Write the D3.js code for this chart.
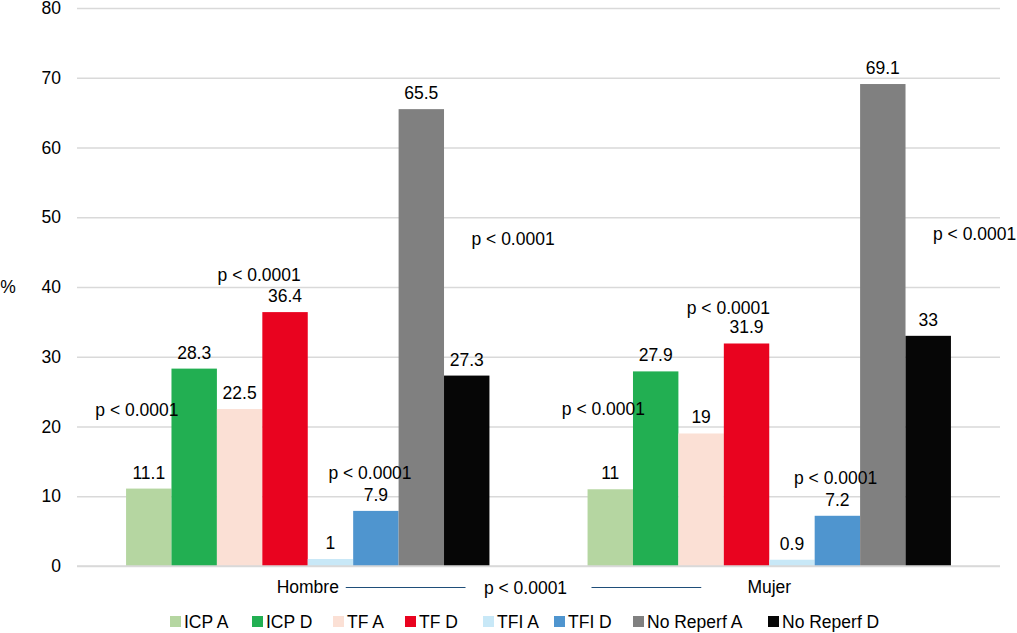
<!DOCTYPE html>
<html>
<head>
<meta charset="utf-8">
<script src="https://cdn.jsdelivr.net/npm/d3@7"></script>
<style>
  body { margin: 0; background: #fff; }
  text { font-family: "Liberation Sans", Arial, sans-serif; fill: #000; }
</style>
</head>
<body>
<div id="chartDiv"></div>
<script>
// Data
const categories = ['Hombre', 'Mujer'];
const seriesNames = ['ICP A', 'ICP D', 'TF A', 'TF D', 'TFI A', 'TFI D', 'No Reperf A', 'No Reperf D'];
const hombreValues = [11.1, 28.3, 22.5, 36.4, 1, 7.9, 65.5, 27.3];
const mujerValues = [11, 27.9, 19, 31.9, 0.9, 7.2, 69.1, 33];
const yTickValues = [0, 10, 20, 30, 40, 50, 60, 70, 80];
const seriesColors = ['#b5d6a1', '#22af52', '#fbe0d5', '#e9031f', '#c8e8f7', '#4f95cf', '#808080', '#060606'];

// p-value notes: category, slot (in bar widths from the group's first bar), level (%)
const noteText = 'p < 0.0001';
const noteCats = ['Hombre', 'Hombre', 'Hombre', 'Hombre', 'Mujer', 'Mujer', 'Mujer', 'Mujer'];
const noteSlots = [0.24, 2.93, 5.37, 8.52, 0.35, 3.1, 5.46, 8.52];
const noteLevels = [22.3, 41.7, 13.4, 46.9, 22.5, 37.0, 12.6, 47.6];

const vars = {
  width: 1017,
  height: 633,
  fontSize: '17.5px',
  margin: { left: 77, right: 17, top: 8, bottom: 67 }
};

const rows = categories.map((c, i) => ({
  cat: c,
  values: (i === 0 ? hombreValues : mujerValues).map((v, j) => ({ series: seriesNames[j], value: v, cat: c }))
}));

const svg = d3.select('#chartDiv').append('svg')
  .attr('width', vars.width)
  .attr('height', vars.height);

const innerW = vars.width - vars.margin.left - vars.margin.right;
const innerH = vars.height - vars.margin.top - vars.margin.bottom;

const gObj = svg.append('g')
  .attr('transform', `translate(${vars.margin.left},${vars.margin.top})`);

// Scales
const x0 = d3.scaleBand().domain(categories).range([0, innerW]).padding(0);
const x1 = d3.scaleBand().domain(seriesNames).range([0, x0.bandwidth()])
  .paddingInner(0).paddingOuter(1.08);
const yScale = d3.scaleLinear().domain([0, 80]).range([innerH, 0]);
const color = d3.scaleOrdinal().domain(seriesNames).range(seriesColors);

// Grid / y axis
const yAxis = d3.axisLeft(yScale)
  .tickValues(yTickValues)
  .tickSize(-innerW)
  .tickPadding(16);

const yAxisG = gObj.append('g').call(yAxis);
yAxisG.select('.domain').remove();
yAxisG.selectAll('.tick line').attr('stroke', '#d9d9d9').attr('stroke-width', 1.3);
yAxisG.selectAll('.tick text').style('font-size', vars.fontSize);

svg.append('text')
  .attr('x', 8).attr('y', vars.margin.top + yScale(40) + 6)
  .attr('text-anchor', 'middle')
  .style('font-size', vars.fontSize)
  .text('%');

// Bars
const groups = gObj.selectAll('.grp')
  .data(rows)
  .enter().append('g')
  .attr('class', 'grp')
  .attr('transform', d => `translate(${x0(d.cat)},0)`);

groups.selectAll('rect')
  .data(d => d.values)
  .enter().append('rect')
  .attr('x', d => x1(d.series))
  .attr('y', d => yScale(d.value))
  .attr('width', x1.bandwidth())
  .attr('height', d => innerH - yScale(d.value))
  .attr('fill', d => color(d.series));

groups.selectAll('.val')
  .data(d => d.values)
  .enter().append('text')
  .attr('class', 'val')
  .attr('x', d => x1(d.series) + x1.bandwidth() / 2)
  .attr('y', d => yScale(d.value) - 10)
  .attr('text-anchor', 'middle')
  .style('font-size', vars.fontSize)
  .text(d => d.value);

// baseline
gObj.append('line')
  .attr('x1', 0).attr('x2', innerW)
  .attr('y1', innerH).attr('y2', innerH)
  .attr('stroke', '#d9d9d9').attr('stroke-width', 1.3);

// x axis labels
const xAxis = d3.axisBottom(x0).tickSize(0).tickPadding(15);
const xAxisG = gObj.append('g').attr('transform', `translate(0,${innerH})`).call(xAxis);
xAxisG.select('.domain').remove();
xAxisG.selectAll('.tick text').style('font-size', vars.fontSize);

// p-value notes
const firstBar = x1(seriesNames[0]);
gObj.selectAll('.note')
  .data(noteCats.map((c, i) => ({ cat: c, slot: noteSlots[i], level: noteLevels[i] })))
  .enter().append('text')
  .attr('class', 'note')
  .attr('x', d => x0(d.cat) + firstBar + d.slot * x1.step())
  .attr('y', d => yScale(d.level) + 6)
  .attr('text-anchor', 'middle')
  .style('font-size', vars.fontSize)
  .text(noteText);

// bottom connector between groups
const labelY = innerH + 22;
const midX = innerW / 2 - 13;
gObj.append('text')
  .attr('x', midX).attr('y', labelY + 6)
  .attr('text-anchor', 'middle')
  .style('font-size', vars.fontSize)
  .text(noteText);
gObj.append('line')
  .attr('x1', x0('Hombre') + x0.bandwidth() / 2 + 38).attr('x2', midX - 60)
  .attr('y1', labelY - 0.5).attr('y2', labelY - 0.5)
  .attr('stroke', '#1f4e79').attr('stroke-width', 1.2);
gObj.append('line')
  .attr('x1', midX + 66).attr('x2', x0('Mujer') + x0.bandwidth() / 2 - 68)
  .attr('y1', labelY - 0.5).attr('y2', labelY - 0.5)
  .attr('stroke', '#1f4e79').attr('stroke-width', 1.2);

// Legend
const legendX = [170, 252, 333, 405, 483, 554, 633, 768];
const legend = svg.append('g').attr('transform', 'translate(0,622)');
const items = legend.selectAll('.leg')
  .data(seriesNames)
  .enter().append('g')
  .attr('class', 'leg')
  .attr('transform', (d, i) => `translate(${legendX[i]},0)`);
items.append('rect')
  .attr('x', 0).attr('y', -6)
  .attr('width', 11).attr('height', 11)
  .attr('fill', d => color(d));
items.append('text')
  .attr('x', 14).attr('y', 6)
  .style('font-size', vars.fontSize)
  .text(d => d);
</script>
</body>
</html>
